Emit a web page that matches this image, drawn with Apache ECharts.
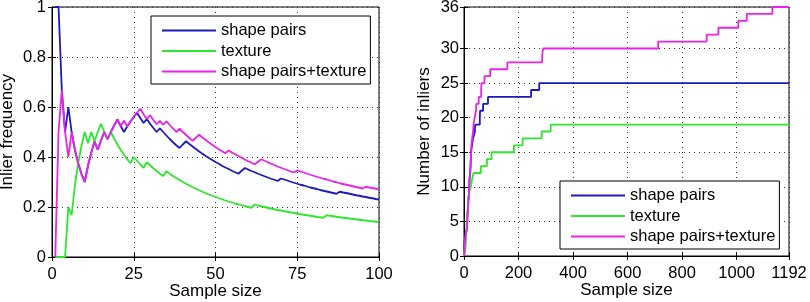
<!DOCTYPE html>
<html>
<head>
<meta charset="utf-8">
<title>Inlier frequency / Number of inliers</title>
<script src="https://cdn.jsdelivr.net/npm/echarts@6/dist/echarts.min.js"></script>
<style>
  html, body { margin: 0; padding: 0; background: #fff; }
  #chart { width: 810px; height: 302px; }
</style>
</head>
<body>
<div id="chart"></div>
<script>
const seriesNames = ['shape pairs', 'texture', 'shape pairs+texture'];
const colors = ['#1a1ac0', '#2ee62e', '#ea22ea'];

// left plot: inlier frequency for sample size 1..100
const shapeFreq = [
  1, 1, .667, .5, .6, .5, .429, .375, .333, .3,
  .364, .417, .462, .429, .467, .5, .471, .5, .526, .55,
  .524, .5, .522, .542, .56, .577, .556, .536, .552, .533,
  .516, .5, .515, .5, .486, .472, .459, .447, .436, .45,
  .463, .452, .442, .432, .422, .413, .404, .396, .388, .38,
  .373, .365, .358, .352, .345, .339, .333, .345, .356, .35,
  .344, .339, .333, .328, .323, .318, .313, .309, .304, .314,
  .31, .306, .301, .297, .293, .289, .286, .282, .278, .275,
  .272, .268, .265, .262, .259, .256, .253, .261, .258, .256,
  .253, .25, .247, .245, .242, .24, .237, .235, .232, .23
];
const textureFreq = [
  0, 0, 0, 0, .2, .167, .286, .375, .444, .5,
  .455, .5, .462, .5, .533, .5, .471, .5, .474, .45,
  .429, .409, .391, .375, .4, .385, .37, .357, .379, .367,
  .355, .344, .333, .324, .343, .333, .324, .316, .308, .3,
  .293, .286, .279, .273, .267, .261, .255, .25, .245, .24,
  .235, .231, .226, .222, .218, .214, .211, .207, .203, .2,
  .197, .21, .206, .203, .2, .197, .194, .191, .188, .186,
  .183, .181, .178, .176, .173, .171, .169, .167, .165, .163,
  .16, .159, .157, .167, .165, .163, .161, .159, .157, .156,
  .154, .152, .151, .149, .147, .146, .144, .143, .141, .14
];
const comboFreq = [
  0, .5, .667, .5, .4, .5, .429, .375, .333, .3,
  .364, .417, .462, .429, .467, .5, .471, .5, .526, .55,
  .524, .545, .522, .542, .56, .577, .593, .571, .552, .567,
  .548, .531, .545, .529, .543, .528, .514, .5, .513, .5,
  .488, .476, .465, .477, .489, .478, .468, .458, .449, .44,
  .431, .423, .415, .426, .418, .411, .404, .397, .39, .383,
  .377, .371, .381, .391, .385, .379, .373, .368, .362, .357,
  .352, .347, .342, .338, .347, .342, .338, .333, .329, .325,
  .321, .317, .313, .31, .306, .302, .299, .295, .292, .289,
  .286, .283, .28, .277, .274, .281, .278, .276, .273, .27
];

// right plot: [sample size, number of inliers] where the count changes
const shapeSteps = [[1, 1], [2, 2], [5, 3], [11, 4], [12, 5], [13, 6], [15, 7], [16, 8], [18, 9], [19, 10], [20, 11],
  [23, 12], [24, 13], [25, 14], [26, 15], [29, 16], [33, 17], [40, 18], [41, 19], [58, 20], [59, 21], [70, 22],
  [88, 23], [246, 24], [276, 25], [1192, 25]];
const textureSteps = [[1, 0], [5, 1], [7, 2], [8, 3], [9, 4], [10, 5], [12, 6], [14, 7], [15, 8], [18, 9], [25, 10],
  [29, 11], [35, 12], [62, 13], [84, 14], [101, 15], [183, 16], [215, 17], [285, 18], [318, 19], [1192, 19]];
const comboSteps = [[1, 0], [2, 1], [3, 2], [6, 3], [11, 4], [12, 5], [13, 6], [15, 7], [16, 8], [18, 9], [19, 10],
  [20, 11], [22, 12], [24, 13], [25, 14], [26, 15], [27, 16], [30, 17], [33, 18], [35, 19], [39, 20], [44, 21],
  [45, 22], [54, 23], [63, 24], [64, 25], [75, 26], [96, 27], [159, 28], [287, 29], [290, 30], [712, 31],
  [890, 32], [933, 33], [1006, 34], [1037, 35], [1131, 36], [1192, 36]];

const countXTicks = [0, 200, 400, 600, 800, 1000, 1192];
const countYTicks = [0, 5, 10, 15, 20, 25, 30, 36];

const font = 'Liberation Sans, Arial, Helvetica, sans-serif';
const textStyle = { color: '#000', fontSize: 16.5, fontFamily: font };
const plainNumber = v => String(v);

const myChart = echarts.init(document.getElementById('chart'));

function mainAxis(gridIndex, min, max, extra) {
  return Object.assign({
    gridIndex: gridIndex,
    type: 'value',
    min: min,
    max: max,
    axisLine: { show: true, lineStyle: { color: '#000', width: 1 } },
    axisTick: { show: true, inside: true, length: 4, lineStyle: { color: '#000' } },
    axisLabel: Object.assign({ margin: 6, formatter: plainNumber }, textStyle),
    splitLine: { show: true, lineStyle: { color: '#333', width: 1, type: [1, 4] } },
    nameLocation: 'middle',
    nameMoveOverlap: false,
    nameTextStyle: { color: '#000', fontSize: 17, fontFamily: font }
  }, extra);
}

// mirrored axes give the box its ticks on top and right
function boxAxis(gridIndex, min, max, extra) {
  return Object.assign({
    gridIndex: gridIndex,
    type: 'value',
    min: min,
    max: max,
    axisLine: { show: true, lineStyle: { color: '#000', width: 1 } },
    axisTick: { show: true, inside: true, length: 4, lineStyle: { color: '#000' } },
    axisLabel: { show: false },
    splitLine: { show: false }
  }, extra);
}

function legend(left, top) {
  return {
    data: seriesNames,
    orient: 'vertical',
    left: left,
    top: top,
    icon: 'rect',
    itemWidth: 54,
    itemHeight: 2,
    itemGap: 3.5,
    padding: [6, 4, 4, 11],
    borderColor: '#000',
    borderWidth: 1,
    borderRadius: 0,
    backgroundColor: '#fff',
    textStyle: Object.assign({ lineHeight: 17 }, textStyle)
  };
}

function lineSeries(i, xAxisIndex, yAxisIndex, data, step) {
  return {
    name: seriesNames[i],
    type: 'line',
    xAxisIndex: xAxisIndex,
    yAxisIndex: yAxisIndex,
    data: data,
    step: step,
    symbol: 'none',
    color: colors[i],
    lineStyle: { color: colors[i], width: 1.8 }
  };
}

let option = {
  animation: false,
  backgroundColor: '#fff',
  grid: [
    { left: 52, top: 7, width: 327, height: 250, outerBoundsMode: 'none', show: true, borderColor: '#000', borderWidth: 1 },
    { left: 464, top: 7, width: 325, height: 249, outerBoundsMode: 'none', show: true, borderColor: '#000', borderWidth: 1 }
  ],
  xAxis: [
    mainAxis(0, 0, 100, {
      interval: 25, position: 'bottom', name: 'Sample size', nameGap: 26,
      axisLabel: Object.assign({ margin: 9, formatter: plainNumber }, textStyle)
    }),
    boxAxis(0, 0, 100, { interval: 25, position: 'top' }),
    mainAxis(1, 0, 1192, {
      position: 'bottom', name: 'Sample size', nameGap: 26,
      axisLabel: Object.assign({ margin: 9, formatter: plainNumber, customValues: countXTicks }, textStyle),
      axisTick: { show: true, inside: true, length: 4, lineStyle: { color: '#000' }, customValues: countXTicks }
    }),
    boxAxis(1, 0, 1192, {
      position: 'top',
      axisTick: { show: true, inside: true, length: 4, lineStyle: { color: '#000' }, customValues: countXTicks }
    })
  ],
  yAxis: [
    mainAxis(0, 0, 1, { interval: 0.2, position: 'left', name: 'Inlier frequency', nameGap: 36 }),
    boxAxis(0, 0, 1, { interval: 0.2, position: 'right' }),
    mainAxis(1, 0, 36, {
      position: 'left', name: 'Number of inliers', nameGap: 31,
      axisLabel: Object.assign({ margin: 5, formatter: plainNumber, customValues: countYTicks }, textStyle),
      axisTick: { show: true, inside: true, length: 4, lineStyle: { color: '#000' }, customValues: countYTicks }
    }),
    boxAxis(1, 0, 36, {
      position: 'right',
      axisTick: { show: true, inside: true, length: 4, lineStyle: { color: '#000' }, customValues: countYTicks }
    })
  ],
  legend: [legend(151, 16), legend(560, 181)],
  series: [
    lineSeries(0, 0, 0, shapeFreq.map((v, i) => [i + 1, v]), false),
    lineSeries(1, 0, 0, textureFreq.map((v, i) => [i + 1, v]), false),
    lineSeries(2, 0, 0, comboFreq.map((v, i) => [i + 1, v]), false),
    lineSeries(0, 2, 2, shapeSteps, 'end'),
    lineSeries(1, 2, 2, textureSteps, 'end'),
    lineSeries(2, 2, 2, comboSteps, 'end')
  ]
};

option && myChart.setOption(option);
</script>
</body>
</html>
